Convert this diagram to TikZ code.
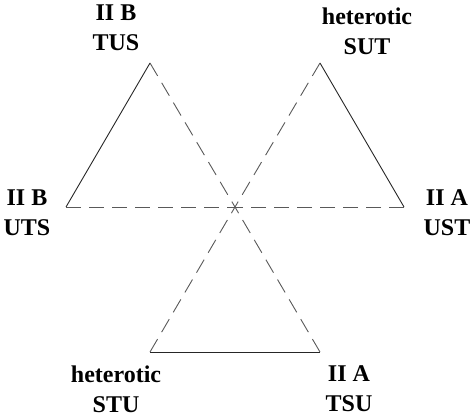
\documentclass[tikz,border=0pt]{standalone}
\usepackage{fontspec}
\setmainfont{Liberation Serif}
\usetikzlibrary{calc}
\tikzset{
    every node/.style={transform shape},
    solidedge/.style={draw=black!85, line width=0.9pt},
    dashedge/.style={draw=black!65, line width=0.9pt, dash pattern=on 15pt off 8pt},
    theory/.style={font=\bfseries\fontsize{24}{30}\selectfont, align=center, inner sep=0pt},
}

\begin{document}
\begin{tikzpicture}[x=1pt, y=-1pt]
    \useasboundingbox (0, 0) rectangle (474, 417);
    % the six corners round the common point
    \coordinate (mid) at (235, 207);
    \coordinate (tl) at (150, 63);
    \coordinate (tr) at (320, 63);
    \coordinate (l) at (66, 207);
    \coordinate (r) at (404, 207);
    \coordinate (bl) at (150, 352);
    \coordinate (br) at (320, 352);
    \draw[solidedge] (tl) -- (l);
    \draw[solidedge] (tr) -- (r);
    \draw[solidedge] (bl) -- (br);
    \draw[dashedge] (l) -- (mid);
    \draw[dashedge] (r) -- (mid);
    \draw[dashedge] (tl) -- (mid);
    \draw[dashedge] (tr) -- (mid);
    \draw[dashedge] (bl) -- (mid);
    \draw[dashedge] (br) -- (mid);
    \node[theory] (tlname) at (116, 28) {II B\\TUS};
    \node[theory] (trname) at (367, 31) {heterotic\\SUT};
    \node[theory] (lname) at (27, 213) {II B\\UTS};
    \node[theory] (rname) at (447, 213) {II A\\UST};
    \node[theory] (blname) at (116, 389) {heterotic\\STU};
    \node[theory] (brname) at (349, 389) {II A\\TSU};
\end{tikzpicture}
\end{document}
